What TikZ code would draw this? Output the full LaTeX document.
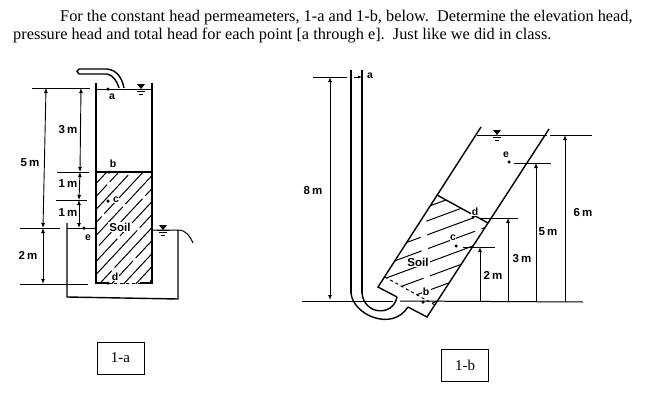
\documentclass[tikz,border=0pt]{standalone}
\usepackage{fontspec}
\setmainfont{Liberation Serif}
\setsansfont{Liberation Sans}
\usepackage{tikz}
\usetikzlibrary{arrows.meta}
\tikzset{
	wall/.style={line width=1.4pt},
	thinwall/.style={line width=1pt},
	dimline/.style={line width=0.9pt,{Latex[length=5pt,width=4pt]}-{Latex[length=5pt,width=4pt]}},
	upline/.style={line width=0.9pt,-{Latex[length=5pt,width=4pt]}},
	hatch/.style={line width=1pt},
	lab/.style={font=\sffamily\bfseries\fontsize{11.5}{13}\selectfont,inner sep=0pt},
	ptlab/.style={font=\sffamily\bfseries\fontsize{10.5}{12}\selectfont,inner sep=0pt},
	bodytext/.style={font=\fontsize{16.3}{18}\selectfont,inner sep=0pt,anchor=base west},
	capbox/.style={draw,line width=0.8pt,font=\fontsize{15}{17}\selectfont,minimum width=47pt,minimum height=32pt,inner sep=0pt},
	pt/.style={circle,fill,inner sep=0pt,minimum size=3.5pt}
}
% water level mark
\newcommand{\watermark}[2]{
	\fill (#1-4,#2-5) -- (#1+4,#2-5) -- (#1,#2) -- cycle;
	\draw[line width=0.9pt] (#1-6,#2) -- (#1+6,#2);
	\draw[line width=0.9pt] (#1-4,#2+2.5) -- (#1+4,#2+2.5);
	\draw[line width=0.9pt] (#1-2,#2+5) -- (#1+2,#2+5);
}
\begin{document}
\begin{tikzpicture}[x=1pt,y=-1pt]
	\useasboundingbox (0,0) rectangle (662,407);
	\fill[white] (0,0) rectangle (662,407);
	\node[bodytext] (line1) at (60,21) {For the constant head permeameters, 1-a and 1-b, below.\ \ Determine the elevation head,};
	\node[bodytext] (line2) at (13,39) {pressure head and total head for each point [a through e].\ \ Just like we did in class.};

	% 1-a
	\begin{scope}
		\clip (96,172) rectangle (152,283);
		\foreach \k in {0,13,...,182} {
			\pgfmathsetmacro\ph{mod(\k*3,70)}
			\draw[hatch,dash pattern=on 64pt off 4pt,dash phase=\ph pt] (90,190+\k) -- (160,115+\k);
		}
	\end{scope}
	\draw[wall] (96,83) -- (96,283) -- (108,283);
	\draw[wall] (152,83) -- (152,283) -- (140,283);
	\draw[thinwall,dashed] (108,283) -- (140,283);
	\draw[wall] (96,172) -- (152,172);
	\draw[thinwall] (96,89) -- (152,89);
	\draw[wall] (67,223) -- (67,297) -- (178,299) -- (178,230);
	\draw[thinwall] (67,228) -- (96,228);
	\draw[thinwall] (152,230) -- (178,230) .. controls (186,230) and (190,236) .. (193,243);
	% inlet pipe
	\draw[wall] (107,69) -- (79,69) -- (77,71.5) -- (79,74) -- (107,74);
	\draw[wall] (107,69) .. controls (117,70) and (122,78) .. (124,88);
	\draw[wall] (107,74) .. controls (113,75) and (117,81) .. (119,88);
	\watermark{141}{89}
	\watermark{163}{230}

	\draw[thinwall] (32,88) -- (90,88);
	\draw[thinwall] (57,172) -- (89,172);
	\draw[thinwall] (56,200) -- (87,200);
	\draw[thinwall] (20,228) -- (60,228);
	\draw[thinwall] (20,284) -- (88,284);
	\draw[dimline] (46,88) -- (43,228);
	\draw[dimline] (43,228) -- (43,284);
	\draw[dimline] (81,88) -- (80,172);
	\draw[dimline] (80,172) -- (79,200);
	\draw[dimline] (79,200) -- (79,228);

	\node[lab,fill=white,inner sep=1pt] (soila) at (120,227) {Soil};
	\node[lab] (len5) at (30,163) {5\,m};
	\node[lab] (len2) at (28,255) {2\,m};
	\node[lab] (len3a) at (68,130) {3\,m};
	\node[lab] (len1a) at (68,184) {1\,m};
	\node[lab] (len1b) at (68,213) {1\,m};
	\node[pt] (pa) at (108,89) {};
	\node[pt] (pb) at (109,172) {};
	\node[pt] (pc) at (108,201) {};
	\node[pt] (pd) at (108,283) {};
	\node[pt] (pe) at (84,228) {};
	\node[ptlab] (la) at (112,97) {a};
	\node[ptlab] (lb) at (113,164) {b};
	\node[ptlab,fill=white,inner sep=0.5pt] (lc) at (116,200) {c};
	\node[ptlab,fill=white,inner sep=0.5pt] (ld) at (115,277) {d};
	\node[ptlab] (le) at (88,238) {e};

	% 1-b
	\begin{scope}
		\clip (437,195) -- (488,223) -- (435,305) -- (385,277) -- cycle;
		\foreach \k in {0,14,...,168} {
			\pgfmathsetmacro\ph{mod(\k*4,57)}
			\draw[hatch,dash pattern=on 50pt off 7pt,dash phase=\ph pt] (370,200+\k) -- (500,152+\k);
		}
	\end{scope}
	\draw[wall] (351,70) -- (351,293);
	\draw[wall] (362,70) -- (362,293);
	\draw[wall] (481,127) -- (378,287) -- (397,297);
	\draw[wall] (549,129) -- (427,317) -- (408,307);
	\draw[wall] (351,293) .. controls (353,315) and (392,332) .. (408,307);
	\draw[wall] (362,293) .. controls (364,315) and (393,317) .. (397,297);
	\draw[wall] (437,195) -- (488,223);
	\draw[thinwall,dashed] (385,277) -- (435,305);
	\draw[thinwall] (477,135) -- (547,135);
	\watermark{497}{135}

	\draw[thinwall] (302,301) -- (393,301);
	\draw[thinwall] (400,301) -- (583,302);
	\draw[thinwall] (313,77) -- (347,77);
	\draw[upline,-{Latex[length=4pt,width=3pt]}] (354,77) -- (362,77);
	\draw[dimline] (330,77) -- (330,300);
	\draw[thinwall] (550,135) -- (592,135);
	\draw[thinwall] (514,163) -- (551,163);
	\draw[thinwall] (480,218) -- (518,218);
	\draw[thinwall] (463,247) -- (495,247);
	\draw[upline] (565,302) -- (565,135);
	\draw[upline] (536,302) -- (536,163);
	\draw[upline] (508,302) -- (508,218);
	\draw[upline] (480,302) -- (480,247);

	\node[lab,fill=white,inner sep=1pt] (soilb) at (418,262) {Soil};
	\node[lab] (len8) at (313,191) {8\,m};
	\node[lab] (len6) at (583,213) {6\,m};
	\node[lab] (len5b) at (548,232) {5\,m};
	\node[lab] (len3b) at (522,259) {3\,m};
	\node[lab] (len2b) at (493,275) {2\,m};
	\node[ptlab] (lq) at (370,76) {a};
	\node[pt] (qe) at (509,162) {};
	\node[pt] (qd) at (473,217) {};
	\node[pt] (qc) at (456,246) {};
	\node[pt] (qb) at (423,302) {};
	\node[ptlab] (me) at (506,155) {e};
	\node[ptlab,fill=white,inner sep=0.5pt] (md) at (475,212) {d};
	\node[ptlab,fill=white,inner sep=0.5pt] (mc) at (453,238) {c};
	\node[ptlab,fill=white,inner sep=0.5pt] (mb) at (426,292) {b};

	\node[capbox] (cap1a) at (120.5,358) {1-a};
	\node[capbox] (cap1b) at (465,365.5) {1-b};
\end{tikzpicture}
\end{document}
